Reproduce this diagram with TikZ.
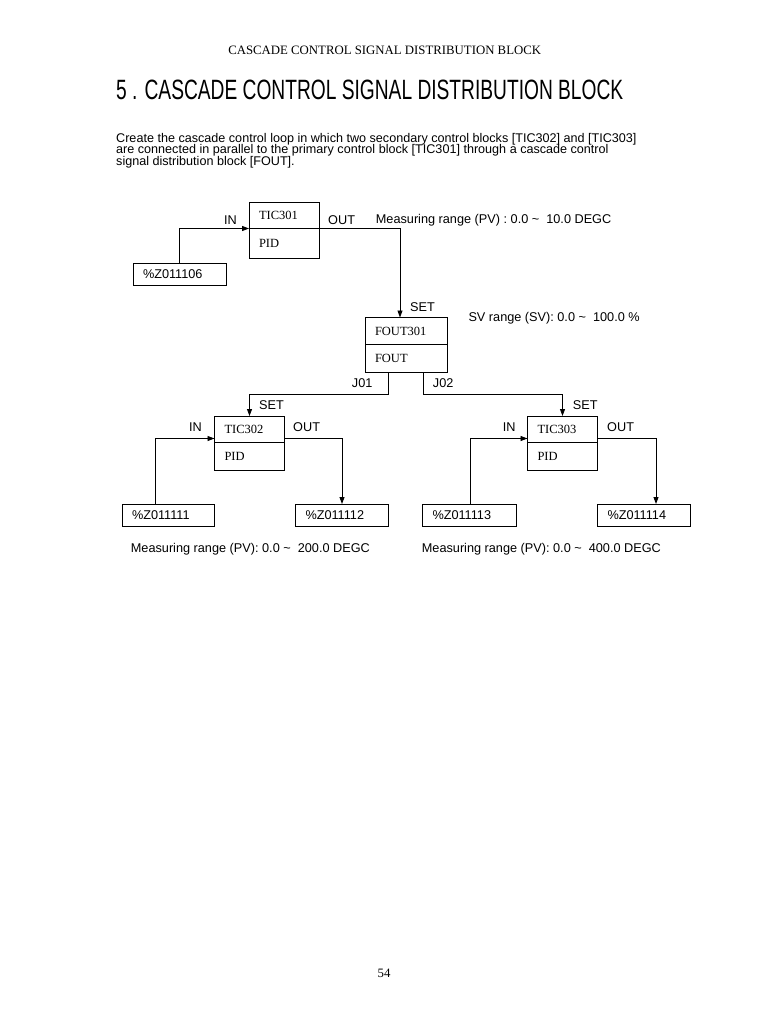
\documentclass[tikz,border=0pt]{standalone}
\usepackage{fontspec}
\setmainfont{Liberation Serif}
\newfontfamily\arialf{Liberation Sans}
\usetikzlibrary{arrows.meta}
\begin{document}
\begin{tikzpicture}[x=1pt,y=-1pt,
  lbl/.style={font=\arialf\fontsize{12.7}{14}\selectfont, inner sep=0, anchor=base west},
  para/.style={font=\arialf\fontsize{12.6}{14}\selectfont, inner sep=0, anchor=base west},
  part/.style={draw, line width=0.9pt, outer sep=0, font=\fontsize{12.5}{14}\selectfont, inner xsep=10pt, inner ysep=0, align=left, anchor=north west},
  pct/.style={draw, line width=0.9pt, outer sep=0, font=\arialf\fontsize{12.7}{14}\selectfont, inner xsep=10pt, inner ysep=0, align=left, anchor=north west},
  arr/.style={line width=0.9pt, -{Triangle[length=7pt,width=5pt]}}]
\useasboundingbox (0,0) rectangle (768,1024);
\fill[white] (0,0) rectangle (768,1024);

% header and title
\node[font=\fontsize{12.8}{14}\selectfont, inner sep=0, anchor=base] (hdr) at (384.7,54.2) {CASCADE CONTROL SIGNAL DISTRIBUTION BLOCK};
\node[inner sep=0, anchor=base west] (title) at (116,99.5) {\resizebox{507pt}{19.5pt}{\arialf 5 . CASCADE CONTROL SIGNAL DISTRIBUTION BLOCK}};
\node[para] (p1) at (116,142.3) {Create the cascade control loop in which two secondary control blocks [TIC302] and [TIC303]};
\node[para] (p2) at (116,154) {are connected in parallel to the primary control block [TIC301] through a cascade control};
\node[para] (p3) at (116,165.7) {signal distribution block [FOUT].};

% blocks
\node[part, text width=50pt, minimum height=26pt] (tic301) at (249,202.5) {TIC301};
\node[part, text width=50pt, minimum height=29.5pt] (tic301b) at (249,228.5) {PID};
\node[part, text width=62pt, minimum height=27pt] (fout) at (365,317.5) {FOUT301};
\node[part, text width=62pt, minimum height=28pt] (foutb) at (365,344.5) {FOUT};
\node[part, text width=50pt, minimum height=26pt] (tic302) at (214.5,416) {TIC302};
\node[part, text width=50pt, minimum height=28pt] (tic302b) at (214.5,442) {PID};
\node[part, text width=50pt, minimum height=26pt] (tic303) at (527.5,416) {TIC303};
\node[part, text width=50pt, minimum height=28pt] (tic303b) at (527.5,442) {PID};

\node[pct, text width=73pt, minimum height=21.5pt] (z106) at (133,263.5) {\%Z011106};
\node[pct, text width=72.5pt, minimum height=22pt] (z111) at (122,504) {\%Z011111};
\node[pct, text width=73pt, minimum height=22pt] (z112) at (295.5,504) {\%Z011112};
\node[pct, text width=74pt, minimum height=22pt] (z113) at (422.5,504) {\%Z011113};
\node[pct, text width=73pt, minimum height=22pt] (z114) at (597.5,504) {\%Z011114};

% connectors
\draw[arr] ([xshift=46.3pt]z106.north west) |- (tic301.south west);
\draw[arr] (tic301.south east) -| ([xshift=-6pt]fout.north);
\draw[arr] ([xshift=23.7pt]foutb.south west) -- ++(0,21.5) -| (tic302.north);
\draw[arr] ([xshift=-23.7pt]foutb.south east) -- ++(0,21.5) -| (tic303.north);
\draw[arr] ([xshift=33.7pt]z111.north west) |- ([yshift=3.5pt]tic302.south west);
\draw[arr] ([yshift=3.5pt]tic302.south east) -| (z112.north);
\draw[arr] ([xshift=48.2pt]z113.north west) |- ([yshift=3.5pt]tic303.south west);
\draw[arr] ([yshift=3.5pt]tic303.south east) -| ([xshift=12pt]z114.north);

% labels
\node[lbl] (in1) at (224,224.5) {IN};
\node[lbl] (out1) at (328,224.5) {OUT};
\node[lbl] (mr1) at (375.7,224) {Measuring range (PV) : 0.0 \textasciitilde\ \ 10.0 DEGC};
\node[lbl] (set1) at (410,311.2) {SET};
\node[lbl] (sv) at (468.3,321.8) {SV range (SV): 0.0 \textasciitilde\ \ 100.0 \%};
\node[lbl] (j01) at (351.7,387.8) {J01};
\node[lbl] (j02) at (432.7,387.8) {J02};
\node[lbl] (set2) at (259,409.5) {SET};
\node[lbl] (set3) at (572.7,409.5) {SET};
\node[lbl] (in2) at (189,431.8) {IN};
\node[lbl] (out2) at (293,431.8) {OUT};
\node[lbl] (in3) at (502.7,431.8) {IN};
\node[lbl] (out3) at (607,431.8) {OUT};
\node[lbl] (mr2) at (130.7,552.8) {Measuring range (PV): 0.0 \textasciitilde\ \ 200.0 DEGC};
\node[lbl] (mr3) at (421.7,552.8) {Measuring range (PV): 0.0 \textasciitilde\ \ 400.0 DEGC};

% page number
\node[font=\fontsize{12.8}{14}\selectfont, inner sep=0, anchor=base] (pg) at (384,977) {54};
\end{tikzpicture}
\end{document}
